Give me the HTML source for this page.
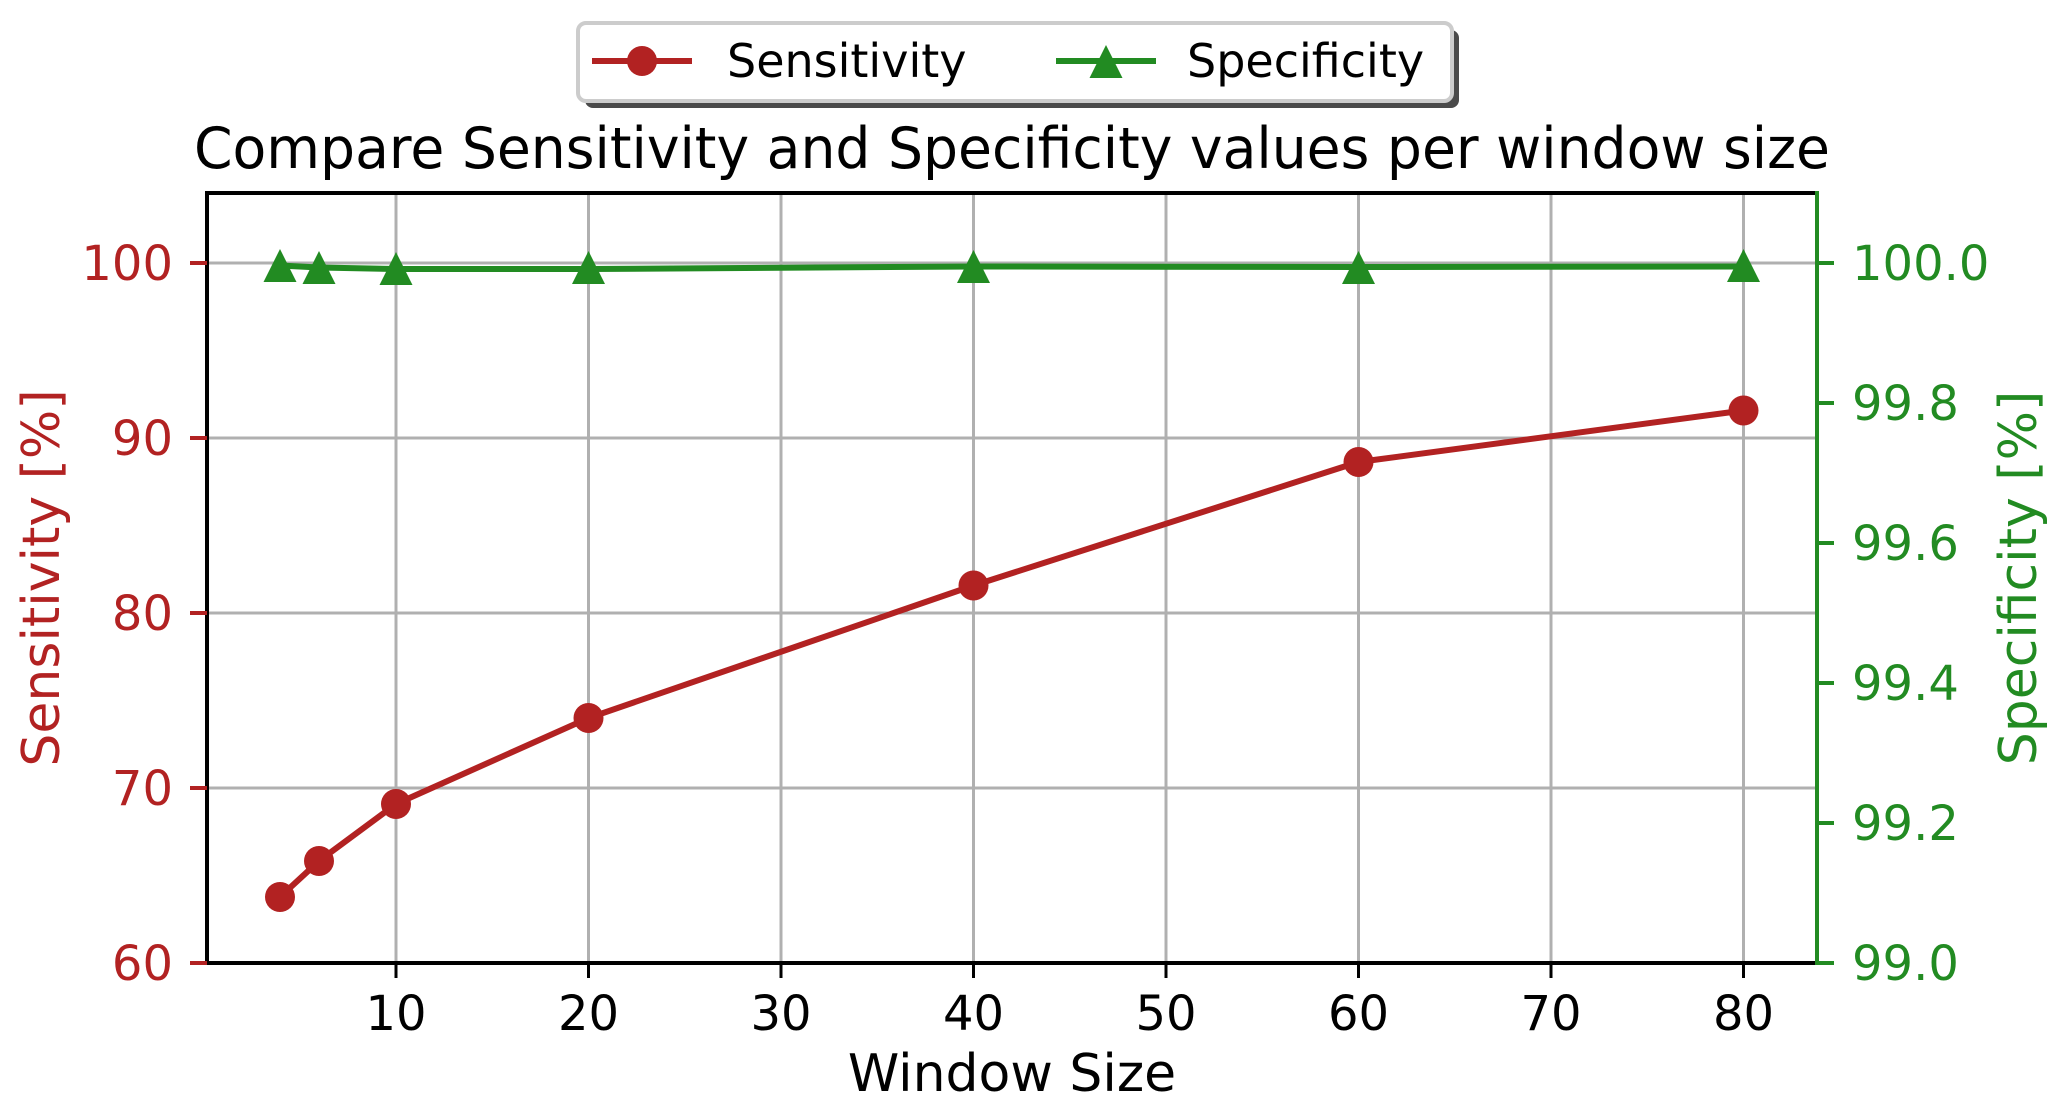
<!DOCTYPE html>
<html><head><meta charset="utf-8"><style>html,body{margin:0;padding:0;background:#fff}svg{display:block}</style></head>
<body>
<svg width="2067" height="1112" viewBox="0 0 2067 1112" xmlns="http://www.w3.org/2000/svg" font-family="DejaVu Sans, Liberation Sans, sans-serif">
<rect width="2067" height="1112" fill="#fff"/>
<g stroke="#b0b0b0" stroke-width="3">
<line x1="396" y1="193" x2="396" y2="963"/>
<line x1="588.5" y1="193" x2="588.5" y2="963"/>
<line x1="781" y1="193" x2="781" y2="963"/>
<line x1="973.5" y1="193" x2="973.5" y2="963"/>
<line x1="1166" y1="193" x2="1166" y2="963"/>
<line x1="1358.5" y1="193" x2="1358.5" y2="963"/>
<line x1="1551" y1="193" x2="1551" y2="963"/>
<line x1="1743.5" y1="193" x2="1743.5" y2="963"/>
<line x1="207" y1="263" x2="1817" y2="263"/>
<line x1="207" y1="438" x2="1817" y2="438"/>
<line x1="207" y1="613" x2="1817" y2="613"/>
<line x1="207" y1="788" x2="1817" y2="788"/>
</g>
<polyline fill="none" stroke="#b22222" stroke-width="6" points="280,897 319,861 396,804 588.5,718 973.5,585.5 1358.5,462 1743.5,410.5"/>
<g fill="#b22222">
<circle cx="280" cy="897" r="15"/><circle cx="319" cy="861" r="15"/><circle cx="396" cy="804" r="15"/><circle cx="588.5" cy="718" r="15"/><circle cx="973.5" cy="585.5" r="15"/><circle cx="1358.5" cy="462" r="15"/><circle cx="1743.5" cy="410.5" r="15"/>
</g>
<polyline fill="none" stroke="#228b22" stroke-width="6" points="280,265.5 319,267.5 396,269 588.5,269 973.5,266.5 1358.5,267 1743.5,266.5"/>
<g fill="#228b22">
<polygon points="280,249 263.5,282 296.5,282"/>
<polygon points="319,251 302.5,284 335.5,284"/>
<polygon points="396,252 379.5,285 412.5,285"/>
<polygon points="588.5,251 572,284 605,284"/>
<polygon points="973.5,250 957,283 990,283"/>
<polygon points="1358.5,251 1342,284 1375,284"/>
<polygon points="1743.5,249 1727,282 1760,282"/>
</g>
<g stroke-width="4" fill="none">
<line x1="205" y1="193" x2="1819" y2="193" stroke="#000"/>
<line x1="205" y1="963" x2="1819" y2="963" stroke="#000"/>
<line x1="207" y1="191" x2="207" y2="965" stroke="#000"/>
<line x1="1817" y1="191" x2="1817" y2="965" stroke="#228b22"/>
</g>
<g stroke="#000" stroke-width="3">
<line x1="396" y1="963" x2="396" y2="978"/><line x1="588.5" y1="963" x2="588.5" y2="978"/><line x1="781" y1="963" x2="781" y2="978"/><line x1="973.5" y1="963" x2="973.5" y2="978"/><line x1="1166" y1="963" x2="1166" y2="978"/><line x1="1358.5" y1="963" x2="1358.5" y2="978"/><line x1="1551" y1="963" x2="1551" y2="978"/><line x1="1743.5" y1="963" x2="1743.5" y2="978"/>
</g>
<g stroke="#b22222" stroke-width="4">
<line x1="190" y1="263" x2="207" y2="263"/><line x1="190" y1="438" x2="207" y2="438"/><line x1="190" y1="613" x2="207" y2="613"/><line x1="190" y1="788" x2="207" y2="788"/><line x1="190" y1="963" x2="207" y2="963"/>
</g>
<g stroke="#228b22" stroke-width="4">
<line x1="1817" y1="263" x2="1834" y2="263"/><line x1="1817" y1="403" x2="1834" y2="403"/><line x1="1817" y1="543" x2="1834" y2="543"/><line x1="1817" y1="683" x2="1834" y2="683"/><line x1="1817" y1="823" x2="1834" y2="823"/><line x1="1817" y1="963" x2="1834" y2="963"/>
</g>
<g font-size="48" fill="#000" text-anchor="middle">
<text x="396" y="1030">10</text><text x="588.5" y="1030">20</text><text x="781" y="1030">30</text><text x="973.5" y="1030">40</text><text x="1166" y="1030">50</text><text x="1358.5" y="1030">60</text><text x="1551" y="1030">70</text><text x="1743.5" y="1030">80</text>
</g>
<g font-size="48" fill="#b22222" text-anchor="end">
<text x="173" y="280">100</text><text x="173" y="455">90</text><text x="173" y="630">80</text><text x="173" y="805">70</text><text x="173" y="980">60</text>
</g>
<g font-size="48" fill="#228b22" text-anchor="start">
<text x="1852" y="280">100.0</text><text x="1852" y="420">99.8</text><text x="1852" y="560">99.6</text><text x="1852" y="700">99.4</text><text x="1852" y="840">99.2</text><text x="1852" y="980">99.0</text>
</g>
<text x="1012" y="1091" font-size="52" text-anchor="middle" fill="#000">Window Size</text>
<text transform="translate(59,578) rotate(-90)" font-size="52" text-anchor="middle" fill="#b22222">Sensitivity [%]</text>
<text transform="translate(2036,578) rotate(-90)" font-size="52" text-anchor="middle" fill="#228b22">Specificity [%]</text>
<text x="1012" y="168" font-size="57" text-anchor="middle" fill="#000" textLength="1636" lengthAdjust="spacingAndGlyphs">Compare Sensitivity and Specificity values per window size</text>
<rect x="585" y="30" width="874" height="78" rx="8" fill="#4a4a4a"/>
<rect x="578" y="23" width="874" height="78" rx="8" fill="#fff" stroke="#cccccc" stroke-width="4"/>
<line x1="592" y1="61" x2="692" y2="61" stroke="#b22222" stroke-width="6"/>
<circle cx="642" cy="61" r="15" fill="#b22222"/>
<text x="727" y="77" font-size="46" fill="#000">Sensitivity</text>
<line x1="1056" y1="61" x2="1156" y2="61" stroke="#228b22" stroke-width="6"/>
<polygon points="1106,45 1089.5,78 1122.5,78" fill="#228b22"/>
<text x="1187" y="77" font-size="46" fill="#000">Specificity</text>
</svg>
</body></html>
